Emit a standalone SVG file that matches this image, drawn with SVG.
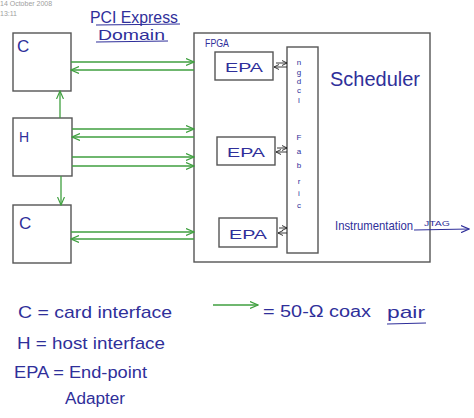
<svg xmlns="http://www.w3.org/2000/svg" width="474" height="418" viewBox="0 0 474 418">
<defs>
<style>
.box{fill:#fff;stroke:#555;stroke-width:1.4}
.ink{fill:#2f2f9a;font-family:"Liberation Sans",Arial,sans-serif}
.g{stroke:#3f9f3f;stroke-width:1.3;fill:none}
.k{stroke:#222;stroke-width:0.9;fill:none}
.meta{fill:#a0a0a0;font-family:"Liberation Sans",Arial,sans-serif;font-size:7px}
</style>
<marker id="ga" markerWidth="9" markerHeight="8" refX="8" refY="4" orient="auto" markerUnits="userSpaceOnUse">
<path d="M0,0.5 L8,4 L0,7.5" fill="none" stroke="#3f9f3f" stroke-width="1.2"/>
</marker>
<marker id="ka" markerWidth="6" markerHeight="6" refX="5" refY="3" orient="auto" markerUnits="userSpaceOnUse">
<path d="M0,0.5 L5,3 L0,5.5" fill="none" stroke="#222" stroke-width="0.9"/>
</marker>
<marker id="ba" markerWidth="9" markerHeight="8" refX="8" refY="4" orient="auto" markerUnits="userSpaceOnUse">
<path d="M0,0.5 L8,4 L0,7.5" fill="none" stroke="#2f2f9a" stroke-width="1.2"/>
</marker>
</defs>
<rect width="474" height="418" fill="#fff"/>

<text class="meta" x="0" y="6">14 October 2008</text>
<text class="meta" x="0" y="16">13:11</text>

<g id="title">
<text class="ink" x="90" y="23" font-size="16" textLength="88" lengthAdjust="spacingAndGlyphs">PCI Express</text>
<text class="ink" x="98" y="40" font-size="15" textLength="67" lengthAdjust="spacingAndGlyphs">Domain</text>
<line x1="96" y1="25" x2="180" y2="24" stroke="#2f2f9a" stroke-width="1.2"/>
<line x1="96" y1="42" x2="168" y2="41" stroke="#2f2f9a" stroke-width="1.2"/>
</g>

<g id="c1">
<rect class="box" x="13" y="33" width="58" height="58"/>
<text class="ink" x="17" y="52" font-size="17">C</text>
</g>
<g id="h">
<rect class="box" x="13" y="118" width="59" height="58"/>
<text class="ink" x="19" y="142" font-size="14">H</text>
</g>
<g id="c2">
<rect class="box" x="13" y="205" width="58" height="58"/>
<text class="ink" x="19" y="229" font-size="17">C</text>
</g>

<g id="fpga">
<rect class="box" x="194" y="33" width="236" height="229"/>
<text class="ink" x="205" y="47" font-size="10" textLength="24" lengthAdjust="spacingAndGlyphs">FPGA</text>
<text class="ink" x="330" y="86" font-size="20" textLength="90" lengthAdjust="spacingAndGlyphs">Scheduler</text>
<text class="ink" x="335" y="230" font-size="13" textLength="78" lengthAdjust="spacingAndGlyphs">Instrumentation</text>
</g>

<g id="fabric">
<rect class="box" x="287" y="47" width="31" height="206"/>
<g class="ink" font-size="8" text-anchor="middle">
<text x="299" y="65">n</text>
<text x="299" y="75">g</text>
<text x="299" y="84">d</text>
<text x="299" y="93">c</text>
<text x="299" y="103">l</text>
<text x="299" y="140">F</text>
<text x="299" y="154">a</text>
<text x="299" y="168">b</text>
<text x="299" y="184">r</text>
<text x="299" y="196">i</text>
<text x="299" y="208">c</text>
</g>
</g>

<g id="epa1">
<rect class="box" x="215" y="52" width="58" height="28"/>
<text class="ink" x="225" y="72" font-size="13" textLength="38" lengthAdjust="spacingAndGlyphs">EPA</text>
</g>
<g id="epa2">
<rect class="box" x="217" y="137" width="58" height="28"/>
<text class="ink" x="227" y="157" font-size="13" textLength="38" lengthAdjust="spacingAndGlyphs">EPA</text>
</g>
<g id="epa3">
<rect class="box" x="219" y="218" width="58" height="29"/>
<text class="ink" x="229" y="239" font-size="13" textLength="38" lengthAdjust="spacingAndGlyphs">EPA</text>
</g>

<g id="connectors">
<line class="g" x1="71" y1="62" x2="194" y2="62" marker-end="url(#ga)"/>
<line class="g" x1="194" y1="70" x2="71" y2="70" marker-end="url(#ga)"/>
<line class="g" x1="72" y1="129" x2="194" y2="129" marker-end="url(#ga)"/>
<line class="g" x1="194" y1="137" x2="72" y2="137" marker-end="url(#ga)"/>
<line class="g" x1="72" y1="157" x2="194" y2="157" marker-end="url(#ga)"/>
<line class="g" x1="72" y1="166" x2="194" y2="166" marker-end="url(#ga)"/>
<line class="g" x1="71" y1="232" x2="194" y2="232" marker-end="url(#ga)"/>
<line class="g" x1="194" y1="239" x2="71" y2="239" marker-end="url(#ga)"/>
<line class="g" x1="60" y1="118" x2="60" y2="91" marker-end="url(#ga)"/>
<line class="g" x1="61" y1="176" x2="61" y2="205" marker-end="url(#ga)"/>

<line class="k" x1="276" y1="63" x2="287" y2="63" marker-end="url(#ka)"/>
<line class="k" x1="287" y1="67" x2="274" y2="67" marker-end="url(#ka)"/>
<line class="k" x1="277" y1="148" x2="287" y2="148" marker-end="url(#ka)"/>
<line class="k" x1="287" y1="152" x2="276" y2="152" marker-end="url(#ka)"/>
<line class="k" x1="279" y1="228" x2="287" y2="228" marker-end="url(#ka)"/>
<line class="k" x1="287" y1="233" x2="278" y2="233" marker-end="url(#ka)"/>

<line x1="414" y1="230" x2="469" y2="229" stroke="#2f2f9a" stroke-width="1.1" marker-end="url(#ba)"/>
</g>
<text class="ink" x="424" y="226" font-size="7" textLength="26" lengthAdjust="spacingAndGlyphs">JTAG</text>

<g id="legend">
<text class="ink" x="18" y="318" font-size="17" textLength="154" lengthAdjust="spacingAndGlyphs">C = card interface</text>
<text class="ink" x="17" y="349" font-size="17" textLength="148" lengthAdjust="spacingAndGlyphs">H = host interface</text>
<text class="ink" x="14" y="378" font-size="17" textLength="133" lengthAdjust="spacingAndGlyphs">EPA = End-point</text>
<text class="ink" x="65" y="404" font-size="16" textLength="60" lengthAdjust="spacingAndGlyphs">Adapter</text>
<line class="g" x1="213" y1="305" x2="258" y2="305" marker-end="url(#ga)"/>
<text class="ink" x="263" y="317" font-size="16" textLength="108" lengthAdjust="spacingAndGlyphs">= 50-Ω coax</text>
<text class="ink" x="387" y="318" font-size="17" textLength="38" lengthAdjust="spacingAndGlyphs">pair</text>
<line x1="387" y1="324" x2="426" y2="323" stroke="#2f2f9a" stroke-width="1.2"/>
</g>
</svg>
